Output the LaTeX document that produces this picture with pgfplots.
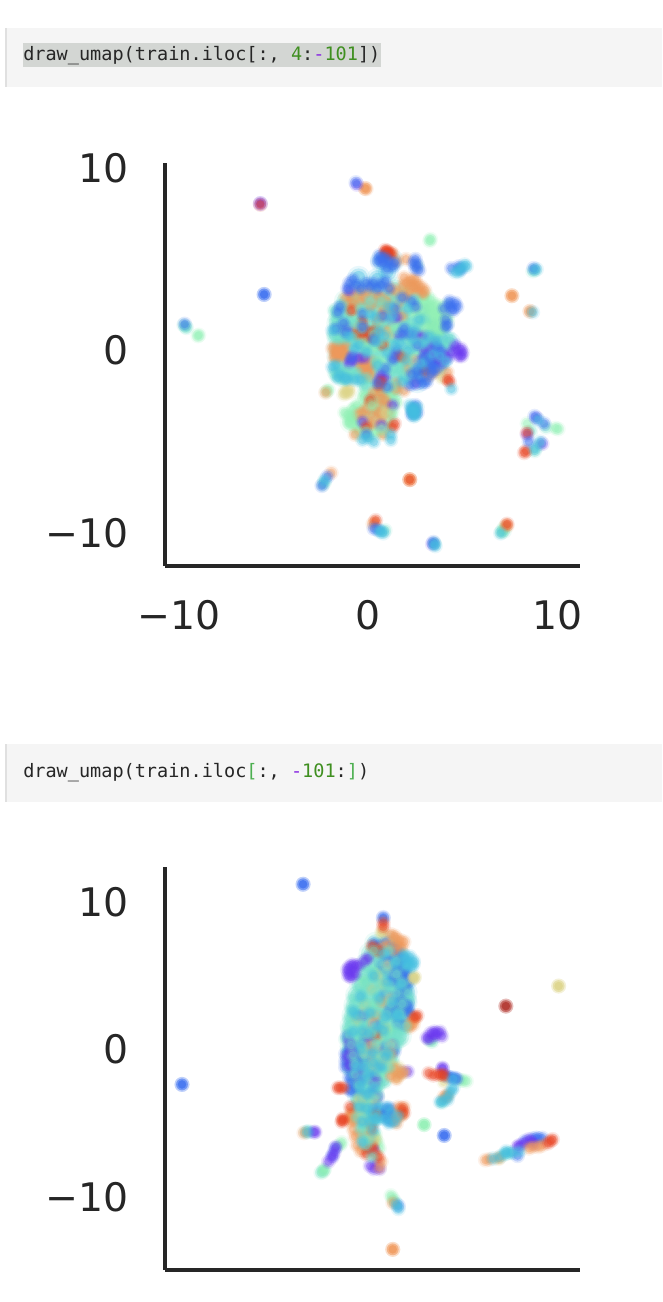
\documentclass[border=0pt]{standalone}
\usepackage{fontspec}
\setmainfont{DejaVu Sans}
\newfontfamily\codefont{DejaVu Sans Mono}
\usepackage{pgfplots}
\pgfplotsset{compat=1.18}
\definecolor{cteal}{HTML}{6FDFC8}
\definecolor{cgreen}{HTML}{90F0B4}
\definecolor{corange}{HTML}{F0985A}
\definecolor{ccyan}{HTML}{44BFE0}
\definecolor{cblue}{HTML}{3B6FF0}
\definecolor{cpurple}{HTML}{6A38F0}
\definecolor{cred}{HTML}{E8401F}
\definecolor{cyellow}{HTML}{DCD488}
\definecolor{cdred}{HTML}{B03028}
\definecolor{cdark}{HTML}{262626}
\definecolor{cellbg}{HTML}{F5F5F5}
\definecolor{cellbar}{HTML}{E0E0E0}
\definecolor{sel}{HTML}{D3D6D3}
\definecolor{numgreen}{HTML}{3F8F20}
\definecolor{brgreen}{HTML}{4CAF50}
\definecolor{minusp}{HTML}{8A2BE2}
\pgfdeclareplotmark{blob}{%
  \pgfsetfillopacity{0.12}\pgfpathcircle{\pgfpointorigin}{1.35\pgfplotmarksize}\pgfusepathqfill
  \pgfsetfillopacity{0.25}\pgfpathcircle{\pgfpointorigin}{1.05\pgfplotmarksize}\pgfusepathqfill
  \pgfsetfillopacity{0.35}\pgfpathcircle{\pgfpointorigin}{0.75\pgfplotmarksize}\pgfusepathqfill
}
\pgfplotsset{
  sc/.style={only marks, mark=blob, mark size=4.2pt, mark options={fill=#1, draw=none}},
  base/.style={only marks, mark=blob, mark size=6.5pt, mark options={fill=#1, draw=none}},
  umap/.style={
    scale only axis, width=311.25pt, height=302.25pt, anchor=south west,
    axis lines=left, line width=2.3pt, color=cdark,
    x axis line style={-, line width=2.3pt, color=cdark},
    y axis line style={-, line width=2.3pt, color=cdark},
    major tick length=0pt,
    tick label style={font=\fontsize{29.5}{31}\selectfont, text=cdark},
    ytick={-10,0,10}, yticklabels={−10,0,10},
    yticklabel style={xshift=-23pt},
    xticklabel style={yshift=-21.5pt},
  },
}
\begin{document}
\begin{tikzpicture}
\useasboundingbox (0,0) rectangle (496.5pt,-976.5pt);
\begin{scope}[x=0.75pt,y=-0.75pt]
\fill[cellbg] (5,28) rectangle (662,87);
\fill[cellbar] (5,28) rectangle (7,87);
\fill[sel] (23,43) rectangle (381,67);
\node[anchor=base west,inner sep=0pt,font=\codefont\fontsize{13.9}{16}\selectfont,text=black!85] at (23,61)
 {draw\_umap(train.iloc[:, \textcolor{numgreen}{4}:\textcolor{minusp}{-}\textcolor{numgreen}{101}])};
\fill[cellbg] (5,744) rectangle (662,802);
\fill[cellbar] (5,744) rectangle (7,802);
\node[anchor=base west,inner sep=0pt,font=\codefont\fontsize{13.9}{16}\selectfont,text=black!85] at (23,777)
 {draw\_umap(train.iloc\textcolor{brgreen}{[}:, \textcolor{minusp}{-}\textcolor{numgreen}{101}:\textcolor{brgreen}{]})};
\end{scope}

\begin{axis}[umap, at={(123.75pt,-424.5pt)},
  xmin=-10.74, xmax=11.2, ymin=-11.8, ymax=10.27,
  xtick={-10,0,10}, xticklabels={−10,0,10}]
\addplot[base=cteal] coordinates {(-0.7,3.3)(0.0,3.4)(0.7,3.3)(1.4,3.4)(-1.2,2.7)(-0.5,2.8)(0.2,2.7)(0.9,2.8)(1.6,2.7)(-1.5,2.1)(-0.8,2.2)(-0.1,2.1)(0.6,2.2)(1.3,2.1)(2.0,2.2)(-1.6,1.5)(-0.9,1.6)(-0.2,1.5)(0.5,1.6)(1.2,1.5)(1.9,1.6)(2.6,1.5)(-1.6,0.9)(-0.9,1.0)(-0.2,0.9)(0.5,1.0)(1.2,0.9)(1.9,1.0)(2.6,0.9)(3.3,1.0)(-1.6,0.3)(-0.9,0.4)(-0.2,0.3)(0.5,0.4)(1.2,0.3)(1.9,0.4)(2.6,0.3)(3.3,0.4)(-1.6,-0.3)(-0.9,-0.2)(-0.2,-0.3)(0.5,-0.2)(1.2,-0.3)(1.9,-0.2)(2.6,-0.3)(-1.5,-0.9)(-0.8,-0.8)(-0.1,-0.9)(0.6,-0.8)(1.3,-0.9)(2.0,-0.8)(-1.3,-1.4)(-0.6,-1.4)(0.1,-1.5)(0.8,-1.4)(1.5,-1.5)(2.2,-1.4)(0.0,-2.0)(0.7,-2.0)(1.4,-2.1)};
\addplot[base=cgreen] coordinates {(2.3,3.4)(2.9,2.9)(3.5,2.3)(2.9,2.3)(3.5,1.7)(4.0,1.6)(2.3,2.5)(3.6,1.1)(-0.6,-3.4)(0.0,-3.2)(0.6,-3.0)(1.2,-2.9)(-0.9,-3.9)(-0.3,-3.9)(0.3,-3.7)(0.9,-3.8)(-0.4,-4.4)(0.2,-4.4)(0.8,-4.3)(-0.1,-2.6)(0.5,-2.5)(1.1,-2.4)};
\addplot[base=ccyan] coordinates {(3.3,-0.3)(4.0,-0.3)(4.3,0.4)(3.9,0.6)(3.2,-0.8)(2.7,-0.9)(3.7,-0.9)(2.9,-1.4)(2.6,-1.7)(-0.5,4.0)(0.5,3.9)(1.0,4.3)(0.7,4.9)(1.3,4.9)};
\addplot[sc=cteal] coordinates {(-1.5,1.7)(-1.3,1.3)(-1.6,2.0)(-1.2,2.1)(-1.4,0.8)(-1.0,1.7)(-0.9,1.1)(-1.7,1.3)(-1.5,-1.0)(-1.2,-1.2)(-1.7,-1.4)(-0.8,-1.4)(-0.6,0.5)(-0.4,1.6)(-0.2,2.4)(0.2,1.3)(0.5,2.3)(0.6,0.1)(0.9,1.5)(1.1,-0.4)(1.3,0.7)(1.6,2.1)(1.8,-0.7)(2.0,0.6)(2.3,1.6)(2.5,-0.2)(2.8,0.9)(3.0,-1.0)(3.3,0.3)(3.5,-0.4)(3.7,0.9)(2.1,2.8)(1.2,3.0)(0.3,3.2)(-0.5,-0.6)(0.2,-1.0)(0.8,-1.5)(1.5,-1.3)(2.2,-1.6)(-1.1,0.3)(0.0,0.4)(3.9,-0.9)(4.2,0.2)(4.0,1.2)(2.9,2.2)(2.6,-1.4)(-0.2,-1.9)(-0.9,2.7)(1.0,2.2)(1.9,1.7)(0.4,-0.3)(1.4,-0.8)(3.4,1.4)
(-9.75,1.4)(-9.65,1.3)(-9.6,1.25)(-2.3,-7.2)(-2.4,-7.35)(8.8,4.4)(8.7,4.35)(8.6,-4.4)(9.0,-5.2)(8.8,-5.5)(9.4,-4.2)(0.9,-9.85)(7.1,-9.85)(7.2,-9.9)(3.5,-10.55)};
\addplot[sc=cgreen] coordinates {(3.2,2.3)(3.5,2.0)(3.8,1.7)(3.6,2.5)(4.0,2.1)(3.3,1.5)(3.9,1.2)(3.0,2.7)(3.4,1.1)(2.7,2.0)(1.5,1.5)(0.9,2.6)(-0.6,2.8)(-0.1,-0.3)(1.0,0.3)(1.9,3.2)(2.2,-0.5)(0.4,-1.3)(-1.1,-3.5)(-0.8,-3.2)(-0.9,-4.0)(-0.5,-4.3)(-0.4,-3.8)(0.4,-2.6)(0.7,-2.9)(1.1,-2.5)(1.2,-3.6)(0.9,-4.2)(1.3,-2.2)(0.0,-4.6)(-1.25,-3.4)
(3.3,6.1)(3.25,6.0)(-9.0,0.8)(-8.95,0.85)(-2.2,-2.25)(-2.1,-2.15)(7.2,-9.7)(7.05,-9.95)(8.4,-4.0)(10.05,-4.3)(9.9,-4.25)(2.6,4.65)
(2.9,2.9)(3.3,2.8)(3.7,2.2)(3.2,1.9)(3.6,1.5)(2.9,1.6)(4.2,1.8)(3.7,1.1)(2.6,2.5)(4.1,2.5)(2.4,2.1)(1.2,1.0)(0.3,0.2)(-0.5,1.9)(1.7,-0.2)(2.9,-0.2)(-0.8,-3.7)(-1.0,-3.9)(-0.6,-3.0)(-0.2,-2.5)(0.3,-3.2)(0.9,-3.3)(1.2,-3.0)(0.5,-4.4)(-0.2,-4.2)(1.5,-2.8)(0.9,-2.3)};
\addplot[sc=corange] coordinates {(-1.7,-0.1)(-1.5,0.2)(-1.3,-0.1)(-1.8,-0.4)(-1.5,-0.4)(-1.2,0.3)(-1.9,0.1)(-1.6,-0.1)(-0.1,-0.7)(0.1,-0.9)(-0.3,-1.0)(0.0,-1.2)(-0.3,-0.5)(2.2,3.7)(2.5,3.9)(1.9,4.0)(2.5,3.4)(2.8,3.5)(2.9,3.1)(2.2,3.2)(2.3,3.9)(1.2,3.4)(0.7,2.9)(-0.5,3.2)(-0.8,2.6)(-0.2,2.9)(0.3,2.7)(1.6,2.6)(0.5,1.6)(1.0,1.1)(-0.4,0.8)(3.6,-1.2)(3.2,-1.4)(4.2,-1.2)(1.5,-2.1)(1.9,-2.2)(0.6,-2.3)(1.0,-3.0)(0.5,-3.4)(0.7,-3.9)(-0.3,-3.4)(0.1,-2.9)(0.0,-3.9)(1.5,-1.8)(-0.7,-4.6)(0.8,-4.6)(2.0,5.0)(1.5,4.9)(1.3,5.3)
(-0.16,8.88)(-0.16,8.88)(-0.1,8.85)(7.6,3.0)(7.6,3.0)(7.6,3.0)(8.55,2.15)(8.55,2.15)(2.2,-7.07)(2.2,-7.07)(2.2,-7.07)(-2.25,-2.3)(0.35,-9.4)(0.25,-9.5)(7.3,-9.55)(7.35,-9.6)(-1.95,-6.7)
(-1.6,0.0)(-1.4,-0.2)(-1.7,-0.3)(-1.4,0.1)(-1.1,-0.3)(-1.75,0.2)(-0.2,-0.9)(0.2,-0.6)(-0.45,-0.8)(0.1,-1.4)(-0.15,-1.3)(1.8,3.5)(2.0,3.7)(2.6,3.6)(2.35,3.5)(2.7,3.2)(2.0,3.0)(3.0,3.3)(1.5,3.2)(1.0,2.7)(0.5,3.0)(0.0,3.2)(-0.9,3.0)(-0.4,2.7)(-1.1,2.6)(-0.7,2.3)(-1.2,2.9)(0.1,2.4)(0.8,2.3)(1.3,2.1)(-0.6,1.2)(0.2,0.9)(0.7,1.9)(1.8,1.9)(1.9,-0.4)(2.1,-1.0)(0.7,-2.6)(0.3,-2.3)(0.9,-2.7)(0.2,-3.5)(0.5,-3.0)(-0.1,-3.2)(0.7,-3.5)(1.1,-3.4)(-0.5,-3.5)(0.3,-4.0)};
\addplot[sc=cpurple] coordinates {(4.9,0.1)(4.8,-0.3)(5.0,-0.1)(4.6,0.3)(3.5,0.4)(3.3,-0.3)(3.0,0.0)(3.7,-0.5)(2.6,-0.6)(1.5,1.8)(-0.2,-0.4)(-0.8,-0.3)(-1.0,-0.7)(-1.0,3.3)(0.6,-1.6)(0.9,-1.5)(1.3,-3.0)(0.7,-4.1)(-0.3,-3.9)(1.6,0.9)(-1.1,1.2)(2.9,0.8)(2.5,-1.8)(3.9,-0.2)(4.2,-0.4)
(-5.7,8.05)(-5.7,8.05)(-0.6,9.1)(8.9,-3.7)(8.4,-4.6)(9.2,-5.1)(3.4,-10.6)
(4.7,0.0)(4.95,-0.3)(4.4,-0.1)(3.2,0.1)(3.6,-0.2)(2.9,-0.5)(3.4,-0.6)(3.9,-0.7)(1.3,1.7)(-0.5,-0.4)(-0.9,-0.6)(0.7,-1.3)(1.4,-0.3)(2.5,0.9)};
\addplot[sc=cyellow] coordinates {(-1.2,-2.2)(-1.0,-2.3)(-1.3,-2.4)(-1.0,-2.1)(-1.15,-2.35)(2.4,-0.5)(1.1,0.9)(3.9,-1.5)(0.9,-3.4)};
\addplot[sc=cred] coordinates {(1.0,5.4)(0.9,5.3)(1.2,5.35)(1.1,5.2)(1.0,5.45)(-0.4,1.0)(0.1,1.0)(0.4,1.1)(-0.1,0.7)(-0.6,0.9)(-0.3,1.6)(0.8,0.3)(-0.9,2.2)(1.7,-0.3)(0.6,-1.9)(1.3,-4.2)(1.4,-4.0)(4.3,-1.7)(4.2,-1.6)(0.1,-2.7)(3.0,-1.1)(-0.1,-4.2)
(-5.7,8.0)(8.25,-5.6)(8.35,-5.5)(8.4,-4.5)(0.4,-9.3)(7.35,-9.5)(2.2,-7.07)
(-0.2,1.1)(0.3,0.7)(0.7,-1.7)(0.9,5.5)};
\addplot[sc=cteal] coordinates {(-1.8,2.2)(-1.4,2.5)(-1.75,1.7)(-1.45,1.0)(-1.1,1.5)(-1.55,0.6)(-1.2,0.7)(-1.85,0.8)(-0.7,1.5)(-0.8,0.7)(-0.35,1.2)(-0.1,0.1)(0.3,0.9)(0.6,1.4)(1.1,1.7)(1.5,1.1)(2.0,1.3)(2.6,1.3)(2.3,0.3)(2.8,0.4)(1.7,-1.0)(1.1,-1.0)(0.4,-0.6)(-0.1,-1.5)(-0.6,-1.2)(-1.3,-1.6)(-1.8,-1.2)(-1.0,-1.1)(0.6,0.5)(3.0,1.7)(3.5,0.7)(3.9,0.4)(4.3,0.7)(3.1,-0.6)(2.4,-1.0)(1.9,-1.4)(1.3,-1.9)(0.7,2.7)(0.1,2.7)(-0.4,2.3)(1.5,2.7)(2.5,2.8)};
\addplot[sc=cgreen] coordinates {(3.3,2.4)(3.6,1.9)(3.1,1.2)(1.4,1.3)(0.6,-0.6)(-0.3,0.4)(-0.9,-3.6)(0.2,-3.0)(0.7,-4.3)(1.3,-3.4)(-0.1,-4.5)};
\addplot[sc=cblue] coordinates {(-1.5,2.4)(-1.7,1.2)(-1.0,3.7)(-0.6,3.6)(-0.1,3.7)(0.3,3.7)(0.7,3.6)(1.1,3.4)(0.6,5.2)(0.8,4.8)(1.4,4.8)(0.9,5.1)(2.4,4.8)(2.7,4.4)(2.5,5.0)(4.6,2.6)(4.3,2.5)(4.5,2.2)(4.1,1.3)(4.1,1.7)(2.2,0.9)(2.6,0.3)(3.0,-0.3)(3.4,-0.8)(2.6,-1.1)(2.9,-1.8)(2.2,-1.9)(3.3,-1.3)(3.8,0.0)(1.9,1.2)(1.5,0.0)(0.9,-1.0)(0.3,0.6)(-0.3,2.0)(0.8,1.9)(2.5,2.4)(1.8,2.9)(-0.9,-0.4)(0.5,-1.8)(1.0,-2.0)(-1.2,1.0)(2.35,-3.2)(2.5,-3.0)(2.3,-3.5)(2.6,-3.4)(4.4,4.5)(4.9,4.45)(4.8,4.6)
(-5.5,3.07)(-5.5,3.07)(-5.5,3.07)(-0.65,9.2)(-9.7,1.45)(0.3,-9.75)(0.5,-9.8)(-2.45,-7.4)(-2.15,-6.9)(8.8,-3.6)(9.3,-4.0)(8.5,-5.0)(3.45,-10.5)(8.75,4.5)(-0.1,-4.6)
(-1.1,3.4)(-0.4,3.4)(0.1,3.5)(0.5,3.4)(0.9,3.8)(-0.8,3.9)(0.7,5.0)(1.1,4.9)(0.5,4.9)(1.3,4.6)(1.0,4.5)(2.5,4.5)(2.6,4.7)(4.4,2.3)(4.3,2.7)(4.7,2.4)(4.0,2.3)(4.2,1.4)(2.9,-1.0)(3.2,-0.6)(3.6,-1.0)(3.6,0.2)(2.7,-1.5)(2.3,-1.3)(1.3,-0.5)(1.8,0.9)(-0.3,1.3)(1.4,2.3)(2.3,2.7)(-1.3,1.5)(-1.6,2.1)(3.1,-1.7)(3.4,-1.1)};
\addplot[sc=ccyan] coordinates {(-1.9,-0.9)(-1.6,-1.5)(-1.1,-1.6)(-0.4,-1.6)(0.6,1.0)(1.3,1.9)(2.1,0.0)(2.8,-0.7)(3.0,0.4)(1.7,0.4)(0.5,-0.8)(-0.7,0.1)(-1.0,0.8)(-1.9,1.1)(0.1,2.0)(1.1,2.4)(2.4,1.1)(3.6,0.5)(4.1,-0.6)(2.3,-3.2)(2.5,-3.4)(2.2,-3.0)(2.4,-3.6)(2.6,-3.1)(2.35,-3.4)(0.3,-5.0)(0.0,-4.8)(1.2,-4.6)(1.2,-4.9)(-0.3,-4.9)(4.6,4.3)(4.9,4.5)(5.1,4.7)(5.2,4.6)(4.8,4.3)
(0.7,-9.9)(0.6,-9.9)(0.8,-10.0)(3.55,-10.7)(3.5,-10.6)(7.0,-10.0)(-2.3,-7.1)(4.4,-2.1)(8.8,-5.4)(9.1,-5.0)(9.0,-3.8)(8.9,4.45)(8.7,2.1)
(-1.7,-0.8)(-1.5,-1.3)(-1.2,-1.5)(-0.7,-1.6)(-0.1,-0.1)(0.4,0.5)(1.0,-0.1)(1.4,0.3)(2.0,-0.5)(2.4,0.6)(3.2,0.8)(3.8,-0.3)(3.4,-0.2)(2.7,1.7)(2.1,2.3)(0.4,1.8)(-0.5,0.3)(1.8,-1.7)(0.9,0.8)(2.3,-3.3)(2.45,-3.2)(2.5,-3.55)};
\end{axis}

\begin{axis}[umap, at={(123.75pt,-952.5pt)},
  xmin=-10.74, xmax=11.2, ymin=-14.95, ymax=12.37,
  xtick=\empty]
\addplot[base=cteal] coordinates {(0.4,7.2)(1.1,7.3)(0.1,6.5)(0.8,6.6)(1.5,6.5)(-0.1,5.8)(0.6,5.9)(1.3,5.8)(-0.3,5.1)(0.4,5.2)(1.1,5.1)(1.7,5.2)(-0.4,4.4)(0.3,4.5)(1.0,4.4)(1.7,4.5)(-0.6,3.7)(0.1,3.8)(0.8,3.7)(1.5,3.8)(-0.7,3.0)(0.0,3.1)(0.7,3.0)(1.4,3.1)(1.9,3.0)(-0.8,2.3)(-0.1,2.4)(0.6,2.3)(1.3,2.4)(1.9,2.3)(-0.9,1.6)(-0.2,1.7)(0.5,1.6)(1.2,1.7)(1.8,1.6)(-0.9,0.9)(-0.2,1.0)(0.5,0.9)(1.2,1.0)(1.7,0.9)(-0.9,0.2)(-0.2,0.3)(0.5,0.2)(1.2,0.3)(-0.9,-0.5)(-0.2,-0.4)(0.5,-0.5)(1.1,-0.4)(-0.8,-1.2)(-0.1,-1.1)(0.6,-1.2)(1.1,-1.1)(-0.5,-1.9)(0.2,-1.8)(0.7,-1.9)(-0.4,-2.6)(0.3,-2.5)(-0.3,-3.3)(0.3,-3.2)(-0.4,-4.0)(0.2,-3.9)(-0.4,-4.7)(0.2,-4.6)(-0.2,-5.4)(0.1,-6.1)};
\addplot[base=ccyan] coordinates {(1.7,6.2)(1.9,5.6)(2.0,4.7)(2.0,3.9)(2.0,3.2)(1.4,2.6)(-0.6,-0.1)(0.0,-0.8)(0.6,1.3)(-0.2,2.0)(0.3,-2.2)(-0.5,-3.2)(0.6,-4.4)(1.2,-4.5)};
\addplot[sc=cteal] coordinates {(0.6,7)(1.3,7.1)(0.2,6.3)(0.9,6.2)(1.7,6.3)(-0.1,5.6)(0.5,5.5)(1.2,5.7)(1.9,5.5)(-0.3,4.9)(0.3,4.8)(0.9,5.0)(1.6,4.8)(-0.5,4.2)(0.1,4.1)(0.7,4.3)(1.3,4.1)(2.0,4.2)(-0.8,3.5)(-0.2,3.4)(0.4,3.6)(1.0,3.4)(1.6,3.5)(2.2,3.4)(-0.9,2.8)(-0.4,2.7)(0.2,2.9)(0.8,2.7)(1.4,2.8)(2.0,2.7)(-1.0,2.1)(-0.5,2.0)(0.1,2.2)(0.7,2.0)(1.3,2.1)(1.9,2.0)(-1.1,1.4)(-0.6,1.3)(0.0,1.5)(0.6,1.3)(1.2,1.4)(1.8,1.3)(-1.2,0.7)(-0.6,0.6)(0,0.8)(0.6,0.6)(1.2,0.7)(1.7,0.6)(-1.1,0)(-0.5,-0.1)(0.1,0.1)(0.7,-0.1)(1.3,0)(-1,-0.7)(-0.4,-0.8)(0.2,-0.6)(0.8,-0.8)(1.3,-0.7)(-1,-1.4)(-0.4,-1.5)(0.2,-1.3)(0.8,-1.5)(-0.8,-2.1)(-0.2,-2.2)(0.4,-2.0)(0.9,-2.2)(-0.6,-2.8)(-0.1,-2.9)(0.4,-2.7)(-0.6,-3.5)(-0.1,-3.6)(0.4,-3.5)(-0.5,-4.2)(0,-4.3)(0.5,-4.2)(-0.3,-5)(0.2,-5)(-0.2,-5.7)
(3.4,0.55)(3.9,-3.6)(-3.3,-5.6)(-3.15,-5.55)(-2.5,-8.35)(-2.35,-8.2)(7.2,-7.1)(7.55,-7.0)(1.4,-10.3)};
\addplot[sc=cgreen] coordinates {(0.5,5.3)(-0.2,4.6)(1.1,1.3)(0.3,3.0)(-0.4,0.9)(0.6,-1.7)(5.2,-2.15)(5.0,-2.1)(4.9,-2.1)(2.96,-5.1)(2.96,-5.1)(2.96,-5.1)(-1.5,-6.5)(-1.4,-6.3)(0.4,-5.8)(0.6,-6.7)(-2.4,-8.3)(-2.3,-8.1)(1.2,-9.9)(1.3,-10.1)(0.5,-6.3)(3.3,0.55)};
\addplot[sc=cblue] coordinates {(0.9,7.3)(0.3,7.2)(1.5,6.9)(1.8,6.1)(1.3,6.4)(0.7,5.8)(1.5,5.4)(0.9,5.4)(1.9,5.0)(2.1,4.5)(1.3,4.6)(1.7,3.9)(2.1,3.0)(1.5,3.1)(0.9,3.8)(1.1,2.5)(2.2,2.4)(1.6,1.8)(-0.9,0.3)(-1.2,-0.3)(-0.9,-0.9)(-1.2,-0.8)(-0.7,-1.1)(-0.5,-0.4)(-1,-1.9)(-0.6,-2.5)(0,-1.9)(0.4,1.0)(-0.3,0.5)(0.9,0.2)(0.5,-1.1)(-0.3,-3.2)(0.3,-3.9)(-0.9,-2.8)(-1.0,-2.7)
(0.8,8.9)(0.8,8.95)(1.0,-4.5)(1.2,-4.0)(1.3,-4.8)(1.0,-4.2)(0.9,-4.0)(4.46,-1.92)(4.7,-2.0)(4.2,-1.85)(4.02,-5.83)(4.02,-5.83)(4.02,-5.83)(-3.44,11.2)(-3.44,11.2)(-3.44,11.2)(-9.84,-2.37)(-9.84,-2.37)(-9.84,-2.37)(8.3,-6.2)(8.9,-6.0)(9.2,-6.0)(-1.9,-7.2)(-1.75,-6.7)(1.6,-10.6)(7.9,-7.2)
(0.5,7.0)(1.2,6.9)(1.6,6.6)(1.0,6.0)(1.6,5.8)(2.0,5.2)(1.3,5.0)(1.7,4.7)(2.0,4.0)(1.4,3.6)(1.8,3.3)(2.1,2.7)(1.2,2.9)(1.8,2.6)(1.9,1.7)(-1.1,0.9)(-1.0,-0.1)(-0.6,-0.6)(-1.2,-1.2)(-0.8,-1.6)(-0.6,-1.9)(-0.9,-2.2)(-0.2,-0.9)(0.3,-1.8)(-0.1,0.8)(0.5,0.0)(1.4,-0.1)(0.2,-3.0)(-0.4,-2.1)(0.1,-0.4)(1.1,-4.8)(0.9,-4.4)(1.3,-4.5)(4.3,-1.9)(4.6,-1.95)(4.1,-1.8)(8.7,-6.05)(9.0,-6.05)};
\addplot[sc=cpurple] coordinates {(-1.0,5.6)(-0.7,5.7)(-1.0,5.2)(-0.7,5.1)(-0.8,5.4)(-1.1,5.4)(-0.5,5.7)(-0.9,4.9)(-1.05,5.0)(-0.85,5.75)(0.0,6.2)(-0.2,6.0)(-1,0.5)(-0.8,-0.2)(-0.4,-1.3)(-1.1,-0.5)(0.4,-2.1)(0.3,1.7)(-0.3,2.3)(1.3,0.3)(3.3,1.1)(3.6,1.1)(3.9,0.9)(3.1,0.8)(3.5,0.9)(3.2,0.7)(3.8,1.2)(3.5,1.2)(1.7,-1.5)(2.1,-1.5)(0.1,-7.9)(0.3,-8.1)(0.6,-8.1)(0.4,-7.7)(0.3,-6.9)(0.2,-6.7)(-1.9,-7.3)(-1.8,-7.0)(-2.1,-7.6)(-1.7,-6.6)(-2.86,-5.6)(-2.8,-5.6)(3.93,-1.25)(3.93,-1.3)(8.2,-6.4)(8.6,-6.3)(8,-6.5)(8.5,-6.1)(8.8,-6.4)(7.9,-6.6)
(-0.9,0.0)(-1.0,-1.1)(-0.5,-1.8)(0.3,-2.3)(0.1,0.5)(0.5,-3.2)};
\addplot[sc=cyellow] coordinates {(2.45,4.9)(2.4,4.8)(2.45,4.9)(0.7,7.9)(0.75,8.0)(0.2,4.1)(0.6,0.9)(-0.1,1.1)(0.9,-0.3)(1.3,-1.4)(1.6,-1.2)(1.5,-1.9)(1.8,-1.6)(-0.4,-4.2)(-0.3,-3.6)(0.3,-0.5)(-0.8,-4.6)(0.2,-6.0)(0,-5.4)(10.07,4.3)(10.07,4.3)(10.07,4.3)(6.9,-7.4)(4.0,-2.2)(0.2,1.8)(1.0,5.7)
(0.5,5.0)(0.8,4.4)(-0.2,3.0)(0.9,1.5)(0.4,0.2)(1.2,0.3)(-0.2,-0.2)(0.7,-0.7)(-0.5,-3.4)(-0.7,-4.3)(-0.1,-4.8)(0.3,-3.4)(0.0,-6.3)(0.4,-6.1)(1.2,-1.0)(1.45,-1.5)(1.1,3.5)(-0.6,2.0)(0.2,-1.1)};
\addplot[sc=corange] coordinates {(1.4,7.7)(1.7,7.4)(1.2,7.8)(1.8,6.9)(1.6,7.1)(0.8,7.0)(2.3,1.9)(2.5,2.1)(2.2,1.5)(0.4,2.3)(0.1,0.3)(1.2,-0.3)(0.7,3.2)(1.7,-1.7)(1.4,-1.3)(1.9,-1.5)(1.5,-2.0)(1.2,-1.8)(-0.9,-4.2)(-1.0,-4.6)(-0.9,-4.9)(-0.8,-5.4)(-0.7,-5.9)(-0.6,-6.5)(-0.4,-6.9)(0.1,-5.6)(0.2,-6.4)(0.6,-8.0)(0.7,-7.6)(1.7,-4.2)(1.9,-3.9)(1.8,-4.4)(1.5,-4.6)(1.5,-5.0)(4.2,-3.05)(4.0,-3.2)(6.2,-7.5)(6.4,-7.45)(6.9,-7.35)(8.7,-6.6)(9.0,-6.6)(9.2,-6.5)(8.5,-6.7)(-3.4,-5.65)(1.3,-13.55)(1.3,-13.55)(1.3,-13.55)(1.3,-10.4)
(1.5,7.5)(1.9,7.3)(1.1,7.1)(1.4,6.7)(-0.9,-4.5)(-0.7,-4.8)(-0.5,-5.8)(-0.3,-6.6)(0.4,-7.1)(2.4,1.7)(2.2,1.7)(1.6,-3.9)(1.75,-4.5)(4.15,-3.2)};
\addplot[sc=cred] coordinates {(0.8,8.6)(0.8,8.3)(0.4,6.8)(0.6,6.6)(0.2,7.0)(2.6,2.3)(2.45,2.2)(0.4,1.0)(-1.5,-2.6)(-1.3,-2.6)(-1.6,-2.6)(-1.35,-4.8)(-1.4,-4.9)(-1.35,-4.7)(-0.95,-3.9)(0.4,-4.4)(0,-6.8)(0.2,-5.3)(0.25,-6.7)(1.8,-4.0)(1.9,-4.3)(3.2,-1.6)(3.45,-1.75)(3.9,-1.7)(4.0,-1.75)(3.7,-1.7)(9.75,-6.1)(9.65,-6.2)(9.5,-6.35)(-0.1,-7.1)(0.55,-7.3)};
\addplot[sc=cdred] coordinates {(7.28,2.94)(7.28,2.94)(7.28,2.94)};
\addplot[sc=cteal] coordinates {(0.3,6.7)(1.1,6.7)(0.6,5.9)(1.5,6.0)(0.2,5.2)(0.9,5.3)(1.5,5.1)(-0.1,4.5)(0.5,4.5)(1.1,4.3)(1.8,4.5)(-0.3,3.8)(0.3,3.9)(0.9,4.0)(1.5,3.8)(2.1,3.8)(-0.6,3.1)(-0.1,3.1)(0.5,3.2)(1.2,3.1)(1.8,3.1)(-0.8,2.4)(-0.2,2.4)(0.4,2.5)(1.0,2.4)(1.7,2.4)(-0.9,1.7)(-0.3,1.7)(0.3,1.4)(0.9,1.6)(1.5,1.6)(2.0,1.6)(-1.0,1.0)(-0.5,0.9)(0.2,1.1)(0.9,1.0)(1.5,1.0)(-0.9,0.3)(-0.3,0.3)(0.4,0.4)(1.0,0.4)(1.5,0.3)(-0.8,-0.4)(-0.2,-0.4)(0.5,-0.4)(1.1,-0.4)(-0.7,-1.0)(-0.1,-1.1)(0.5,-1.0)(1.1,-1.2)(-0.7,-1.7)(-0.1,-1.8)(0.5,-1.6)(-0.5,-2.4)(0.1,-2.3)(0.6,-2.4)(-0.3,-3.2)(0.1,-3.2)(0.5,-3.1)(-0.4,-3.9)(0,-3.9)(-0.6,-4.6)(-0.1,-4.6)(0.3,-4.7)(0,-5.3)(-0.4,-5.4)(-0.3,-6.1)(0.1,-6.1)(-0.1,-6.5)(0.2,-7.3)};
\addplot[sc=ccyan] coordinates {(2.0,6.1)(2.2,6.3)(2.4,6.0)(2.0,5.7)(2.3,5.6)(2.1,5.9)(2.4,5.8)(1.9,6.4)(-0.8,2.6)(-0.3,1.2)(0.5,1.6)(1.5,2.4)(0.9,-0.5)(0.1,-1.6)(-0.4,-2.6)(0,-3.0)(0.2,-4.4)(0.6,-4.6)(0.5,-3.9)(-0.3,-4.9)(1.6,-4.5)(1.2,-4.3)(3.8,-3.55)(3.95,-3.5)(4.2,-3.4)(4.4,-2.8)(4.5,-2.6)(4.25,-3.1)(1.6,-10.8)(1.5,-10.5)(-0.3,-6.3)(7.3,-6.9)(7.6,-7.0)(8,-6.9)(-3.2,-5.6)(4.5,-2.0)
(0.8,6.5)(1.4,5.8)(0.3,5.0)(1.0,4.6)(1.7,4.4)(-0.4,3.6)(0.6,3.5)(1.3,3.3)(-0.6,2.3)(0.1,2.5)(0.9,2.2)(1.6,2.2)(-0.8,1.2)(0.0,1.1)(0.8,1.3)(-0.4,0.0)(0.2,-0.2)(1.0,-0.2)(-0.6,-1.2)(0.3,-0.9)(-0.2,-1.2)(0.7,-1.2)(-0.3,-2.0)(0.3,-2.6)(-0.1,-4.0)(0.4,-4.8)(0.1,-4.9)(1.0,-3.9)(0.9,-4.7)(1.4,-4.9)(1.1,-5.0)(-0.5,-3.9)(0.3,-5.5)(6.6,-7.4)(7.0,-7.25)(7.3,-7.05)};
\end{axis}
\end{tikzpicture}
\end{document}
